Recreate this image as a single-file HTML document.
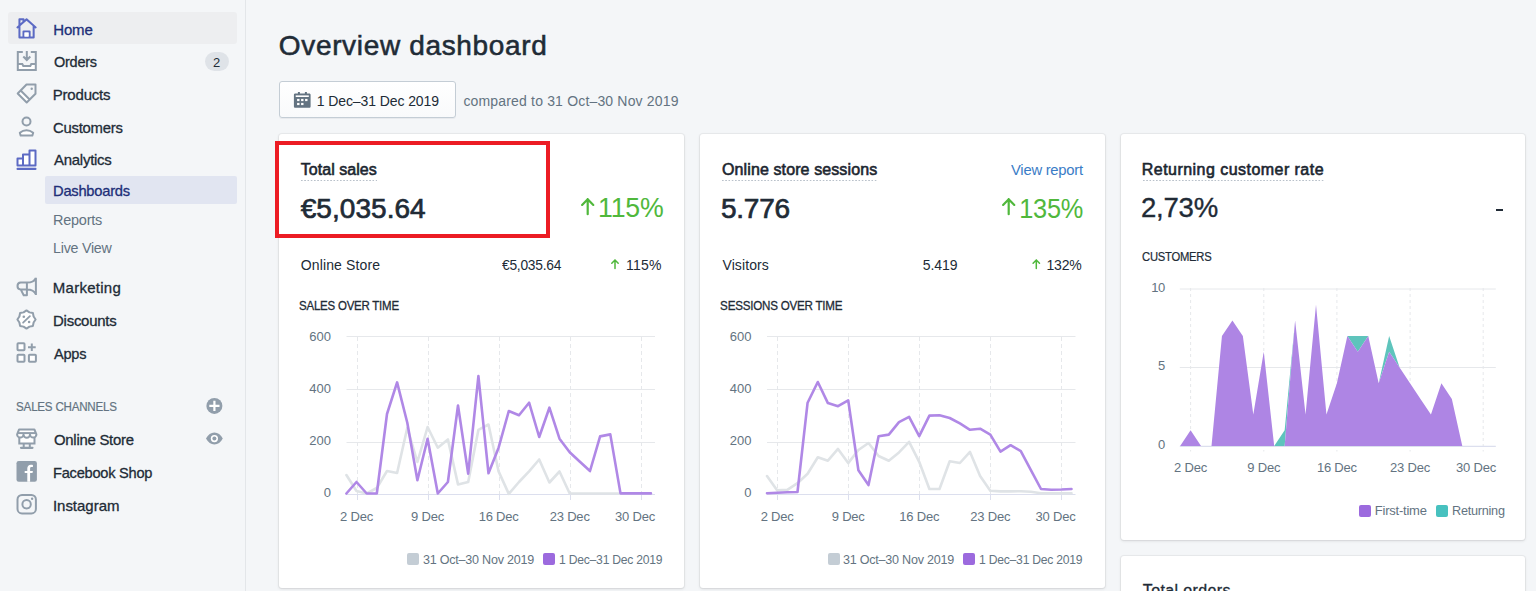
<!DOCTYPE html>
<html><head><meta charset="utf-8"><style>
html,body{margin:0;padding:0;}
body{width:1536px;height:591px;overflow:hidden;background:#f4f6f8;position:relative;font-family:"Liberation Sans", sans-serif;}
.t{position:absolute;white-space:nowrap;}
svg{position:absolute;left:0;top:0;}
</style></head><body>
<div style="position:absolute;left:245px;top:0px;width:1px;height:591px;background:#e3e6e9"></div>
<div style="position:absolute;left:8px;top:12px;width:229px;height:32px;background:#edeef0;border-radius:3px"></div>
<div style="position:absolute;left:45px;top:176px;width:192px;height:28px;background:#e1e5f1;border-radius:2px"></div>
<div class="t" style="left:53.20px;top:22px;font-size:15px;line-height:15px;font-weight:400;color:#202e78;letter-spacing:-0.133px;-webkit-text-stroke:0.3px #202e78;">Home</div>
<div class="t" style="left:54.00px;top:54px;font-size:15px;line-height:15px;font-weight:400;color:#212b36;letter-spacing:-0.250px;-webkit-text-stroke:0.3px #212b36;transform:scaleX(0.9654);transform-origin:0px 0;">Orders</div>
<div class="t" style="left:52.80px;top:87px;font-size:15px;line-height:15px;font-weight:400;color:#212b36;letter-spacing:-0.214px;-webkit-text-stroke:0.3px #212b36;">Products</div>
<div class="t" style="left:52.80px;top:120px;font-size:15px;line-height:15px;font-weight:400;color:#212b36;letter-spacing:-0.250px;-webkit-text-stroke:0.3px #212b36;transform:scaleX(0.9899);transform-origin:1px 0;">Customers</div>
<div class="t" style="left:53.80px;top:152px;font-size:15px;line-height:15px;font-weight:400;color:#212b36;letter-spacing:-0.250px;-webkit-text-stroke:0.3px #212b36;transform:scaleX(0.9966);transform-origin:0px 0;">Analytics</div>
<div class="t" style="left:53.00px;top:183px;font-size:15px;line-height:15px;font-weight:400;color:#202e78;letter-spacing:-0.250px;-webkit-text-stroke:0.3px #202e78;transform:scaleX(0.9801);transform-origin:1px 0;">Dashboards</div>
<div class="t" style="left:52.80px;top:280px;font-size:15px;line-height:15px;font-weight:400;color:#212b36;letter-spacing:0.263px;-webkit-text-stroke:0.3px #212b36;">Marketing</div>
<div class="t" style="left:52.80px;top:313px;font-size:15px;line-height:15px;font-weight:400;color:#212b36;letter-spacing:-0.250px;-webkit-text-stroke:0.3px #212b36;transform:scaleX(0.9984);transform-origin:1px 0;">Discounts</div>
<div class="t" style="left:53.80px;top:346px;font-size:15px;line-height:15px;font-weight:400;color:#212b36;letter-spacing:-0.250px;-webkit-text-stroke:0.3px #212b36;transform:scaleX(0.9714);transform-origin:0px 0;">Apps</div>
<div class="t" style="left:53.90px;top:432px;font-size:15px;line-height:15px;font-weight:400;color:#212b36;letter-spacing:-0.250px;-webkit-text-stroke:0.3px #212b36;transform:scaleX(0.9919);transform-origin:0px 0;">Online Store</div>
<div class="t" style="left:52.90px;top:465px;font-size:15px;line-height:15px;font-weight:400;color:#212b36;letter-spacing:-0.250px;-webkit-text-stroke:0.3px #212b36;transform:scaleX(0.9733);transform-origin:1px 0;">Facebook Shop</div>
<div class="t" style="left:52.90px;top:498px;font-size:15px;line-height:15px;font-weight:400;color:#212b36;letter-spacing:-0.012px;-webkit-text-stroke:0.3px #212b36;">Instagram</div>
<div class="t" style="left:53.00px;top:212px;font-size:15px;line-height:15px;font-weight:400;color:#637381;letter-spacing:-0.250px;transform:scaleX(0.9636);transform-origin:1px 0;">Reports</div>
<div class="t" style="left:53.00px;top:240px;font-size:15px;line-height:15px;font-weight:400;color:#637381;letter-spacing:-0.250px;transform:scaleX(0.9492);transform-origin:1px 0;">Live View</div>
<div class="t" style="left:15.90px;top:400px;font-size:13px;line-height:13px;font-weight:400;color:#637381;letter-spacing:-0.250px;-webkit-text-stroke:0.2px #637381;transform:scaleX(0.8922);transform-origin:1px 0;">SALES CHANNELS</div>
<div style="position:absolute;left:205px;top:52px;width:24px;height:19px;background:#dfe3e8;border-radius:10px"></div>
<div class="t" style="left:213.00px;top:56px;font-size:13px;line-height:13px;font-weight:400;color:#212b36;letter-spacing:0.100px;">2</div>
<div class="t" style="left:278.80px;top:32px;font-size:28px;line-height:28px;font-weight:400;color:#212b36;letter-spacing:0.659px;-webkit-text-stroke:0.55px #212b36;">Overview dashboard</div>
<div style="position:absolute;left:279px;top:81px;width:177px;height:37px;background:linear-gradient(#fff,#f9fafb);border:1px solid #c4cdd5;box-sizing:border-box;border-radius:3px;box-shadow:0 1px 0 0 rgba(22,29,37,0.05)"></div>
<div class="t" style="left:316.70px;top:94px;font-size:14px;line-height:14px;font-weight:400;color:#212b36;letter-spacing:-0.087px;">1 Dec–31 Dec 2019</div>
<div class="t" style="left:463.40px;top:94px;font-size:14px;line-height:14px;font-weight:400;color:#637381;letter-spacing:0.172px;">compared to 31 Oct–30 Nov 2019</div>
<div style="position:absolute;left:279px;top:134px;width:405px;height:454px;background:#fff;border-radius:3px;box-shadow:0 0 0 1px rgba(63,63,68,0.05),0 1px 3px 0 rgba(63,63,68,0.15)"></div>
<div style="position:absolute;left:700px;top:134px;width:405px;height:454px;background:#fff;border-radius:3px;box-shadow:0 0 0 1px rgba(63,63,68,0.05),0 1px 3px 0 rgba(63,63,68,0.15)"></div>
<div style="position:absolute;left:1121px;top:134px;width:404px;height:406px;background:#fff;border-radius:3px;box-shadow:0 0 0 1px rgba(63,63,68,0.05),0 1px 3px 0 rgba(63,63,68,0.15)"></div>
<div style="position:absolute;left:1121px;top:556px;width:404px;height:100px;background:#fff;border-radius:3px;box-shadow:0 0 0 1px rgba(63,63,68,0.05),0 1px 3px 0 rgba(63,63,68,0.15)"></div>
<div class="t" style="left:300.70px;top:162px;font-size:16px;line-height:16px;font-weight:400;color:#1c2630;letter-spacing:0.050px;-webkit-text-stroke:0.6px #1c2630;">Total sales</div>
<div style="position:absolute;left:300.7px;top:180px;width:76.5px;height:1px;background-image:linear-gradient(90deg,#b9c1ca 55%,transparent 55%);background-size:3.25px 1px"></div>
<div class="t" style="left:300.70px;top:195px;font-size:28px;line-height:28px;font-weight:400;color:#212b36;letter-spacing:0.050px;-webkit-text-stroke:0.7px #212b36;">€5,035.64</div>
<div class="t" style="left:597.70px;top:194px;font-size:28px;line-height:28px;font-weight:400;color:#50b83c;letter-spacing:-0.250px;transform:scaleX(0.9540);transform-origin:2px 0;">115%</div>
<div class="t" style="left:300.80px;top:258px;font-size:14px;line-height:14px;font-weight:400;color:#212b36;letter-spacing:0.127px;">Online Store</div>
<div class="t" style="left:501.80px;top:258px;font-size:14px;line-height:14px;font-weight:400;color:#212b36;letter-spacing:-0.250px;transform:scaleX(0.9850);transform-origin:0px 0;">€5,035.64</div>
<div class="t" style="left:626.10px;top:258px;font-size:14px;line-height:14px;font-weight:400;color:#212b36;letter-spacing:0.233px;">115%</div>
<div class="t" style="left:299.00px;top:299px;font-size:13px;line-height:13px;font-weight:400;color:#212b36;letter-spacing:-0.250px;-webkit-text-stroke:0.3px #212b36;transform:scaleX(0.8818);transform-origin:1px 0;">SALES OVER TIME</div>
<div class="t" style="left:722.00px;top:162px;font-size:16px;line-height:16px;font-weight:400;color:#1c2630;letter-spacing:0.110px;-webkit-text-stroke:0.6px #1c2630;">Online store sessions</div>
<div style="position:absolute;left:722px;top:180px;width:156.20000000000005px;height:1px;background-image:linear-gradient(90deg,#b9c1ca 55%,transparent 55%);background-size:3.25px 1px"></div>
<div class="t" style="left:1011.20px;top:162px;font-size:15px;line-height:15px;font-weight:400;color:#3a7cc6;letter-spacing:-0.250px;transform:scaleX(0.9864);transform-origin:0px 0;">View report</div>
<div class="t" style="left:721.00px;top:195px;font-size:28px;line-height:28px;font-weight:400;color:#212b36;letter-spacing:-0.250px;-webkit-text-stroke:0.7px #212b36;">5.776</div>
<div class="t" style="left:1019.30px;top:195px;font-size:28px;line-height:28px;font-weight:400;color:#50b83c;letter-spacing:-0.250px;transform:scaleX(0.9055);transform-origin:2px 0;">135%</div>
<div class="t" style="left:722.50px;top:258px;font-size:14px;line-height:14px;font-weight:400;color:#212b36;letter-spacing:0.086px;">Visitors</div>
<div class="t" style="left:922.80px;top:258px;font-size:14px;line-height:14px;font-weight:400;color:#212b36;letter-spacing:-0.100px;">5.419</div>
<div class="t" style="left:1046.50px;top:258px;font-size:14px;line-height:14px;font-weight:400;color:#212b36;letter-spacing:-0.167px;">132%</div>
<div class="t" style="left:719.80px;top:299px;font-size:13px;line-height:13px;font-weight:400;color:#212b36;letter-spacing:-0.250px;-webkit-text-stroke:0.3px #212b36;transform:scaleX(0.8928);transform-origin:1px 0;">SESSIONS OVER TIME</div>
<div class="t" style="left:1141.80px;top:162px;font-size:16px;line-height:16px;font-weight:400;color:#1c2630;letter-spacing:0.459px;-webkit-text-stroke:0.6px #1c2630;">Returning customer rate</div>
<div style="position:absolute;left:1142.8px;top:180px;width:181.10000000000014px;height:1px;background-image:linear-gradient(90deg,#b9c1ca 55%,transparent 55%);background-size:3.25px 1px"></div>
<div class="t" style="left:1141.40px;top:194px;font-size:28px;line-height:28px;font-weight:400;color:#212b36;letter-spacing:-0.250px;-webkit-text-stroke:0.35px #212b36;transform:scaleX(0.9844);transform-origin:1px 0;">2,73%</div>
<div style="position:absolute;left:1496px;top:209px;width:7px;height:2px;background:#212b36"></div>
<div class="t" style="left:1142.00px;top:251px;font-size:12px;line-height:12px;font-weight:400;color:#212b36;letter-spacing:-0.250px;-webkit-text-stroke:0.2px #212b36;transform:scaleX(0.9365);transform-origin:0px 0;">CUSTOMERS</div>
<div class="t" style="left:1142.80px;top:583px;font-size:16px;line-height:16px;font-weight:400;color:#212b36;letter-spacing:0.364px;-webkit-text-stroke:0.3px #212b36;">Total orders</div>
<div class="t" style="right:1205.00px;top:330px;font-size:13px;line-height:13px;font-weight:400;color:#637381;letter-spacing:0.000px;">600</div>
<div class="t" style="right:1205.00px;top:382px;font-size:13px;line-height:13px;font-weight:400;color:#637381;letter-spacing:0.000px;">400</div>
<div class="t" style="right:1205.00px;top:434px;font-size:13px;line-height:13px;font-weight:400;color:#637381;letter-spacing:0.000px;">200</div>
<div class="t" style="right:1205.00px;top:486px;font-size:13px;line-height:13px;font-weight:400;color:#637381;letter-spacing:0.000px;">0</div>
<div class="t" style="left:156.55px;width:400px;text-align:center;top:510px;font-size:13px;line-height:13px;font-weight:400;color:#637381;letter-spacing:-0.200px;">2 Dec</div>
<div class="t" style="left:227.60px;width:400px;text-align:center;top:510px;font-size:13px;line-height:13px;font-weight:400;color:#637381;letter-spacing:-0.200px;">9 Dec</div>
<div class="t" style="left:298.65px;width:400px;text-align:center;top:510px;font-size:13px;line-height:13px;font-weight:400;color:#637381;letter-spacing:-0.200px;">16 Dec</div>
<div class="t" style="left:369.70px;width:400px;text-align:center;top:510px;font-size:13px;line-height:13px;font-weight:400;color:#637381;letter-spacing:-0.200px;">23 Dec</div>
<div class="t" style="right:881.00px;top:510px;font-size:13px;line-height:13px;font-weight:400;color:#637381;letter-spacing:-0.200px;">30 Dec</div>
<div class="t" style="right:784.50px;top:330px;font-size:13px;line-height:13px;font-weight:400;color:#637381;letter-spacing:0.000px;">600</div>
<div class="t" style="right:784.50px;top:382px;font-size:13px;line-height:13px;font-weight:400;color:#637381;letter-spacing:0.000px;">400</div>
<div class="t" style="right:784.50px;top:434px;font-size:13px;line-height:13px;font-weight:400;color:#637381;letter-spacing:0.000px;">200</div>
<div class="t" style="right:784.50px;top:486px;font-size:13px;line-height:13px;font-weight:400;color:#637381;letter-spacing:0.000px;">0</div>
<div class="t" style="left:577.15px;width:400px;text-align:center;top:510px;font-size:13px;line-height:13px;font-weight:400;color:#637381;letter-spacing:-0.200px;">2 Dec</div>
<div class="t" style="left:648.20px;width:400px;text-align:center;top:510px;font-size:13px;line-height:13px;font-weight:400;color:#637381;letter-spacing:-0.200px;">9 Dec</div>
<div class="t" style="left:719.25px;width:400px;text-align:center;top:510px;font-size:13px;line-height:13px;font-weight:400;color:#637381;letter-spacing:-0.200px;">16 Dec</div>
<div class="t" style="left:790.30px;width:400px;text-align:center;top:510px;font-size:13px;line-height:13px;font-weight:400;color:#637381;letter-spacing:-0.200px;">23 Dec</div>
<div class="t" style="right:460.50px;top:510px;font-size:13px;line-height:13px;font-weight:400;color:#637381;letter-spacing:-0.200px;">30 Dec</div>
<div style="position:absolute;left:407px;top:553px;width:12px;height:12px;background:#c4cdd5;border-radius:2px"></div>
<div class="t" style="left:422.70px;top:553px;font-size:13px;line-height:13px;font-weight:400;color:#637381;letter-spacing:-0.250px;transform:scaleX(0.9662);transform-origin:1px 0;">31 Oct–30 Nov 2019</div>
<div style="position:absolute;left:542.5px;top:553px;width:12px;height:12px;background:#9c6ade;border-radius:2px"></div>
<div class="t" style="left:558.60px;top:553px;font-size:13px;line-height:13px;font-weight:400;color:#637381;letter-spacing:-0.250px;transform:scaleX(0.9336);transform-origin:1px 0;">1 Dec–31 Dec 2019</div>
<div style="position:absolute;left:827.5px;top:553px;width:12px;height:12px;background:#c4cdd5;border-radius:2px"></div>
<div class="t" style="left:843.20px;top:553px;font-size:13px;line-height:13px;font-weight:400;color:#637381;letter-spacing:-0.250px;transform:scaleX(0.9662);transform-origin:1px 0;">31 Oct–30 Nov 2019</div>
<div style="position:absolute;left:963.0px;top:553px;width:12px;height:12px;background:#9c6ade;border-radius:2px"></div>
<div class="t" style="left:979.10px;top:553px;font-size:13px;line-height:13px;font-weight:400;color:#637381;letter-spacing:-0.250px;transform:scaleX(0.9336);transform-origin:1px 0;">1 Dec–31 Dec 2019</div>
<div class="t" style="right:371.00px;top:281px;font-size:13px;line-height:13px;font-weight:400;color:#637381;letter-spacing:-0.300px;">10</div>
<div class="t" style="right:371.00px;top:359px;font-size:13px;line-height:13px;font-weight:400;color:#637381;letter-spacing:-0.300px;">5</div>
<div class="t" style="right:371.00px;top:438px;font-size:13px;line-height:13px;font-weight:400;color:#637381;letter-spacing:-0.300px;">0</div>
<div class="t" style="left:990.60px;width:400px;text-align:center;top:461px;font-size:13px;line-height:13px;font-weight:400;color:#637381;letter-spacing:-0.200px;">2 Dec</div>
<div class="t" style="left:1063.75px;width:400px;text-align:center;top:461px;font-size:13px;line-height:13px;font-weight:400;color:#637381;letter-spacing:-0.200px;">9 Dec</div>
<div class="t" style="left:1136.90px;width:400px;text-align:center;top:461px;font-size:13px;line-height:13px;font-weight:400;color:#637381;letter-spacing:-0.200px;">16 Dec</div>
<div class="t" style="left:1210.05px;width:400px;text-align:center;top:461px;font-size:13px;line-height:13px;font-weight:400;color:#637381;letter-spacing:-0.200px;">23 Dec</div>
<div class="t" style="right:40.00px;top:461px;font-size:13px;line-height:13px;font-weight:400;color:#637381;letter-spacing:-0.200px;">30 Dec</div>
<div style="position:absolute;left:1359px;top:504.5px;width:12px;height:12px;background:#9c6ade;border-radius:2px"></div>
<div class="t" style="left:1374.80px;top:504px;font-size:13px;line-height:13px;font-weight:400;color:#637381;letter-spacing:-0.222px;">First-time</div>
<div style="position:absolute;left:1436px;top:504.5px;width:12px;height:12px;background:#47c1bf;border-radius:2px"></div>
<div class="t" style="left:1451.60px;top:504px;font-size:13px;line-height:13px;font-weight:400;color:#637381;letter-spacing:-0.250px;transform:scaleX(0.9736);transform-origin:1px 0;">Returning</div>
<svg width="1536" height="591" viewBox="0 0 1536 591">
<g transform="translate(16.4,18.3) scale(1.015)"><path fill="#5c6ac4" d="M19.664 8.252l-9-8a1 1 0 0 0-1.328 0L8 1.44V1a1 1 0 0 0-1-1H3a1 1 0 0 0-1 1v5.773L.336 8.252a1.001 1.001 0 0 0 1.328 1.496L2 9.449V19a1 1 0 0 0 1 1h14a1 1 0 0 0 1-1V9.449l.336.299a.997.997 0 0 0 1.411-.083 1.001 1.001 0 0 0-.083-1.413zM16 18h-2v-5a1 1 0 0 0-1-1H7a1 1 0 0 0-1 1v5H4V7.671l6-5.333 6 5.333V18zm-8 0v-4h4v4H8zM4 2h2v1.218L4 4.996V2z"/><rect x="8" y="14" width="4" height="4" fill="#fff"/></g>
<g transform="translate(16.8,51) scale(1.0)"><path d="M1 13H5.5L6.5 15H13.5L14.5 13H19V19H1Z" fill="#fff"/><path fill="none" stroke="#919eab" stroke-width="2" d="M6 1H1V19H19V1H14M1 13H5.5L6.5 15H13.5L14.5 13H19M10 0V9M6.5 5.5L10 9L13.5 5.5"/></g>
<g transform="translate(16.5,83.5) scale(1.0)"><path d="M1.2 10L4.14 7L13.17 16.03L10.2 19Z" fill="#fff"/><path fill="none" stroke="#919eab" stroke-width="2" stroke-linejoin="round" d="M10 1H19V10.2L10.2 19L1.2 10Z M4.14 7L13.17 16.03"/><circle cx="15.2" cy="5.2" r="1.2" fill="#919eab"/></g>
<g transform="translate(16.5,116.5) scale(1.0)"><circle cx="10" cy="5" r="4" fill="none" stroke="#919eab" stroke-width="2"/><path d="M4.2 19.1L3.3 16.2C5.5 14.5 7.8 13.8 10 13.8C12.2 13.8 14.5 14.5 16.7 16.2L15.8 19.1Z" fill="#fff" stroke="#919eab" stroke-width="2" stroke-linejoin="round"/></g>
<g transform="translate(16.5,149.5) scale(1.0)"><path fill="#fff" stroke="#5c6ac4" stroke-width="2" stroke-linejoin="round" d="M1 9H6.5V16H1Z M6.5 5H13V16H6.5Z M13 1H19V16H13Z"/><rect x="0" y="18.2" width="20" height="2.2" rx="1" fill="#5c6ac4"/></g>
<g transform="translate(16.5,276.8) scale(1.0)"><path fill="none" stroke="#919eab" stroke-width="2" stroke-linejoin="round" d="M19.4 1V18.3M19.4 1C18 4.5 14.5 5.8 10.4 5.8H4.2C2 5.8 1 7.2 1 9.3C1 11.2 2 12.6 4 12.6H10.4C14.5 12.6 18 14 19.4 17.6M10.4 5.8V18.5H7.2L4.2 12.6"/></g>
<g transform="translate(16.5,309.5) scale(1.0)"><path d="M10.00 0.90 L12.95 2.89 L16.43 3.57 L17.11 7.05 L19.10 10.00 L17.11 12.95 L16.43 16.43 L12.95 17.11 L10.00 19.10 L7.05 17.11 L3.57 16.43 L2.89 12.95 L0.90 10.00 L2.89 7.05 L3.57 3.57 L7.05 2.89Z" fill="#fff" stroke="#919eab" stroke-width="2" stroke-linejoin="round"/><circle cx="7.3" cy="7.3" r="1.3" fill="#919eab"/><circle cx="12.6" cy="12.5" r="1.3" fill="#919eab"/><path d="M6.6 13.2L13.4 6.7" stroke="#919eab" stroke-width="1.8" stroke-linecap="round"/></g>
<g transform="translate(16.5,342.3) scale(1.0)"><g fill="#fff" stroke="#919eab" stroke-width="2"><rect x="1" y="1" width="7" height="7" rx="0.8"/><rect x="1" y="12.4" width="7" height="7" rx="0.8"/><rect x="12.4" y="12.4" width="7" height="7" rx="0.8"/></g><path d="M15.3 1.2V8.8M11.5 5H19.2" stroke="#919eab" stroke-width="2"/></g>
<g transform="translate(16.5,428.5) scale(1.0)"><path fill="#fff" stroke="#919eab" stroke-width="2" d="M2.8 8V15.1H18V8"/><path d="M7.2 15.5V18.5M13.3 15.5V18.5" stroke="#919eab" stroke-width="2"/><path d="M4.5 19.3H16" stroke="#919eab" stroke-width="2.2" stroke-linecap="round"/><path fill="#fff" stroke="#919eab" stroke-width="2" stroke-linejoin="round" d="M2.6 1H17.9L19.9 5.9A3.15 3.15 0 0 1 13.5 5.9A3.25 3.25 0 0 1 7 5.9A3.15 3.15 0 0 1 0.6 5.9Z"/><path d="M1.3 4.6H19.2" stroke="#919eab" stroke-width="2"/></g>
<g transform="translate(16.5,461.1) scale(1.0)"><rect x="0" y="0" width="20.4" height="20.6" rx="2.2" fill="#919eab"/><path fill="#fff" d="M10.8 20.6V11.9H8.2V9.8H10.8V7.4C10.8 5 12.2 3.6 14.4 3.6C15.3 3.6 16 3.7 16.4 3.8V5.8H15C13.9 5.8 13.6 6.4 13.6 7.3V9.8H16.4L16 11.9H13.6V20.6Z"/></g>
<g transform="translate(16.5,494) scale(1.0)"><rect x="1" y="1" width="18.4" height="18.4" rx="4.5" fill="none" stroke="#919eab" stroke-width="2"/><circle cx="10.1" cy="10.2" r="4.2" fill="none" stroke="#919eab" stroke-width="2"/><circle cx="15.6" cy="4.8" r="1.2" fill="#919eab"/></g>
<circle cx="214.4" cy="405.9" r="8" fill="#919eab"/><path d="M214.4 400.8V411M209.3 405.9H219.5" stroke="#fff" stroke-width="2.2"/>
<path d="M206 438.6C208 434.8 211 432.6 214.4 432.6C217.8 432.6 220.8 434.8 222.8 438.6C220.8 442.4 217.8 444.6 214.4 444.6C211 444.6 208 442.4 206 438.6Z" fill="#919eab"/><circle cx="214.4" cy="438.6" r="3.6" fill="#fff"/><circle cx="214.4" cy="438.6" r="2" fill="#919eab"/>
<g transform="translate(293.9,91.5)"><path fill="#637381" d="M2 2H4V0.6H6V2H11V0.6H13V2H15.2C16.2 2 16.7 2.5 16.7 3.5V15C16.7 15.9 16.2 16.3 15.2 16.3H1.5C0.5 16.3 0 15.9 0 15V3.5C0 2.5 0.5 2 1.5 2Z"/><rect x="1.8" y="3.9" width="13.1" height="1.6" fill="#fff"/><g fill="#fff"><rect x="3.2" y="7.4" width="2.4" height="2.2"/><rect x="7.2" y="7.4" width="2.4" height="2.2"/><rect x="11.2" y="7.4" width="2.4" height="2.2"/><rect x="3.2" y="11.4" width="2.4" height="2.2"/><rect x="7.2" y="11.4" width="2.4" height="2.2"/></g></g>
<path d="M587.6999999999999 214.2V199.2 M582.0999999999999 204.9L587.6999999999999 199.2L593.3 204.9" fill="none" stroke="#50b83c" stroke-width="2.2" stroke-linecap="round" stroke-linejoin="round"/>
<path d="M615.0 268.6V260 M611.8 263.3L615.0 260L618.2 263.3" fill="none" stroke="#50b83c" stroke-width="1.5" stroke-linecap="round" stroke-linejoin="round"/>
<path d="M1008.6999999999999 214.2V199.2 M1003.0999999999999 204.9L1008.6999999999999 199.2L1014.3 204.9" fill="none" stroke="#50b83c" stroke-width="2.2" stroke-linecap="round" stroke-linejoin="round"/>
<path d="M1036.3 268.6V260 M1033.1 263.3L1036.3 260L1039.5 263.3" fill="none" stroke="#50b83c" stroke-width="1.5" stroke-linecap="round" stroke-linejoin="round"/>
<path d="M346.5 336.5H655.0" stroke="#e6e8eb" stroke-width="1"/>
<path d="M346.5 389.5H655.0" stroke="#e6e8eb" stroke-width="1"/>
<path d="M346.5 442.5H655.0" stroke="#e6e8eb" stroke-width="1"/>
<path d="M357.5 337V494" stroke="#e6e8eb" stroke-width="1" stroke-dasharray="4 3"/>
<path d="M357.5 495V500" stroke="#dcdfee" stroke-width="1"/>
<path d="M428.5 337V494" stroke="#e6e8eb" stroke-width="1" stroke-dasharray="4 3"/>
<path d="M428.5 495V500" stroke="#dcdfee" stroke-width="1"/>
<path d="M499.5 337V494" stroke="#e6e8eb" stroke-width="1" stroke-dasharray="4 3"/>
<path d="M499.5 495V500" stroke="#dcdfee" stroke-width="1"/>
<path d="M570.5 337V494" stroke="#e6e8eb" stroke-width="1" stroke-dasharray="4 3"/>
<path d="M570.5 495V500" stroke="#dcdfee" stroke-width="1"/>
<path d="M641.5 337V494" stroke="#e6e8eb" stroke-width="1" stroke-dasharray="4 3"/>
<path d="M641.5 495V500" stroke="#dcdfee" stroke-width="1"/>
<path d="M346.5 494.5H655.0" stroke="#dcdfee" stroke-width="1.2"/>
<polyline points="346.4,475.0 356.5,491.0 366.7,493.5 376.8,488.0 387.0,471.0 397.1,473.0 407.3,427.8 417.4,462.0 427.6,427.0 437.8,447.7 447.9,439.4 458.0,484.4 468.2,482.0 478.4,429.9 488.5,424.5 498.6,471.4 508.8,493.9 519.0,482.0 529.1,471.4 539.2,459.5 549.4,482.5 559.5,471.5 569.7,493.5 579.9,493.5 590.0,493.5 600.1,493.5 610.3,493.5 620.5,493.5 630.6,493.5 640.8,493.5 650.9,493.5" fill="none" stroke="#dfe3e6" stroke-width="2.6" stroke-linejoin="round" stroke-linecap="round"/>
<polyline points="346.4,493.5 356.5,482.0 366.7,493.5 376.8,493.5 387.0,414.0 397.1,382.4 407.3,422.7 417.4,480.2 427.6,438.8 437.8,493.5 447.9,482.0 458.0,405.5 468.2,473.7 478.4,376.1 488.5,473.3 498.6,447.7 508.8,411.0 519.0,415.2 529.1,402.7 539.2,437.0 549.4,407.7 559.5,438.7 569.7,452.3 579.9,461.8 590.0,471.0 600.1,436.4 610.3,434.4 620.5,493.4 630.6,493.4 640.8,493.4 650.9,493.4" fill="none" stroke="#b088e6" stroke-width="2.6" stroke-linejoin="round" stroke-linecap="round"/>
<path d="M767.0 336.5H1075.5" stroke="#e6e8eb" stroke-width="1"/>
<path d="M767.0 389.5H1075.5" stroke="#e6e8eb" stroke-width="1"/>
<path d="M767.0 442.5H1075.5" stroke="#e6e8eb" stroke-width="1"/>
<path d="M777.5 337V494" stroke="#e6e8eb" stroke-width="1" stroke-dasharray="4 3"/>
<path d="M777.5 495V500" stroke="#dcdfee" stroke-width="1"/>
<path d="M848.5 337V494" stroke="#e6e8eb" stroke-width="1" stroke-dasharray="4 3"/>
<path d="M848.5 495V500" stroke="#dcdfee" stroke-width="1"/>
<path d="M919.5 337V494" stroke="#e6e8eb" stroke-width="1" stroke-dasharray="4 3"/>
<path d="M919.5 495V500" stroke="#dcdfee" stroke-width="1"/>
<path d="M990.5 337V494" stroke="#e6e8eb" stroke-width="1" stroke-dasharray="4 3"/>
<path d="M990.5 495V500" stroke="#dcdfee" stroke-width="1"/>
<path d="M1061.5 337V494" stroke="#e6e8eb" stroke-width="1" stroke-dasharray="4 3"/>
<path d="M1061.5 495V500" stroke="#dcdfee" stroke-width="1"/>
<path d="M767.0 494.5H1075.5" stroke="#dcdfee" stroke-width="1.2"/>
<polyline points="767.0,476.1 777.1,490.3 787.3,489.9 797.5,483.2 807.6,473.7 817.8,457.2 827.9,460.7 838.0,448.9 848.2,463.1 858.4,450.0 868.5,443.0 878.6,456.0 888.8,460.7 899.0,452.4 909.1,441.8 919.2,461.8 929.4,489.0 939.5,489.0 949.7,461.3 959.9,463.0 970.0,451.9 980.1,476.0 990.3,490.7 1000.5,491.4 1010.6,491.4 1020.8,491.2 1030.9,491.8 1041.0,493.2 1051.2,493.2 1061.3,493.2 1071.5,493.2" fill="none" stroke="#dfe3e6" stroke-width="2.6" stroke-linejoin="round" stroke-linecap="round"/>
<polyline points="767.0,493.2 777.1,492.7 787.3,492.2 797.5,492.0 807.6,402.7 817.8,382.0 827.9,403.1 838.0,406.2 848.2,400.3 858.4,470.2 868.5,485.1 878.6,436.3 888.8,434.6 899.0,422.1 909.1,416.9 919.2,436.2 929.4,415.6 939.5,415.2 949.7,418.0 959.9,423.4 970.0,429.8 980.1,428.7 990.3,434.6 1000.5,451.6 1010.6,445.2 1020.8,451.1 1030.9,470.1 1041.0,489.0 1051.2,489.7 1061.3,489.5 1071.5,489.0" fill="none" stroke="#b088e6" stroke-width="2.6" stroke-linejoin="round" stroke-linecap="round"/>
<path d="M1179.8 289.0H1495.8" stroke="#e6e8eb" stroke-width="1"/>
<path d="M1179.8 367.5H1495.8" stroke="#e6e8eb" stroke-width="1"/>
<path d="M1190.6 288.0V451.5" stroke="#e6e8eb" stroke-width="1" stroke-dasharray="3 3"/>
<path d="M1263.8 288.0V451.5" stroke="#e6e8eb" stroke-width="1" stroke-dasharray="3 3"/>
<path d="M1336.9 288.0V451.5" stroke="#e6e8eb" stroke-width="1" stroke-dasharray="3 3"/>
<path d="M1410.1 288.0V451.5" stroke="#e6e8eb" stroke-width="1" stroke-dasharray="3 3"/>
<path d="M1483.2 288.0V451.5" stroke="#e6e8eb" stroke-width="1" stroke-dasharray="3 3"/>
<path d="M1179.8 446.3H1495.8" stroke="#dcdfee" stroke-width="1.2"/>
<polygon points="1180.15,446.00 1190.60,430.30 1201.05,446.00 1211.50,446.00 1221.95,336.10 1232.40,320.40 1242.85,336.10 1253.30,414.60 1263.75,351.80 1274.20,446.00 1284.65,430.30 1295.10,320.40 1305.55,414.60 1316.00,304.70 1326.45,414.60 1336.90,383.20 1347.35,336.10 1357.80,336.10 1368.25,336.10 1378.70,383.20 1389.15,336.10 1399.60,367.50 1410.05,383.20 1420.50,398.90 1430.95,414.60 1441.40,383.20 1451.85,398.90 1462.30,446.00 1472.75,446.00 1483.20,446.00 1493.65,446.00 1493.65,446.00 1483.20,446.00 1472.75,446.00 1462.30,446.00 1451.85,398.90 1441.40,383.20 1430.95,414.60 1420.50,398.90 1410.05,383.20 1399.60,367.50 1389.15,351.80 1378.70,383.20 1368.25,336.10 1357.80,351.80 1347.35,336.10 1336.90,383.20 1326.45,414.60 1316.00,304.70 1305.55,414.60 1295.10,320.40 1284.65,446.00 1274.20,446.00 1263.75,351.80 1253.30,414.60 1242.85,336.10 1232.40,320.40 1221.95,336.10 1211.50,446.00 1201.05,446.00 1190.60,430.30 1180.15,446.00" fill="#5ec4bc"/>
<polygon points="1180.15,446.00 1190.60,430.30 1201.05,446.00 1211.50,446.00 1221.95,336.10 1232.40,320.40 1242.85,336.10 1253.30,414.60 1263.75,351.80 1274.20,446.00 1284.65,446.00 1295.10,320.40 1305.55,414.60 1316.00,304.70 1326.45,414.60 1336.90,383.20 1347.35,336.10 1357.80,351.80 1368.25,336.10 1378.70,383.20 1389.15,351.80 1399.60,367.50 1410.05,383.20 1420.50,398.90 1430.95,414.60 1441.40,383.20 1451.85,398.90 1462.30,446.00 1472.75,446.00 1483.20,446.00 1493.65,446.00 1493.65,446.00 1483.20,446.00 1472.75,446.00 1462.30,446.00 1451.85,446.00 1441.40,446.00 1430.95,446.00 1420.50,446.00 1410.05,446.00 1399.60,446.00 1389.15,446.00 1378.70,446.00 1368.25,446.00 1357.80,446.00 1347.35,446.00 1336.90,446.00 1326.45,446.00 1316.00,446.00 1305.55,446.00 1295.10,446.00 1284.65,446.00 1274.20,446.00 1263.75,446.00 1253.30,446.00 1242.85,446.00 1232.40,446.00 1221.95,446.00 1211.50,446.00 1201.05,446.00 1190.60,446.00 1180.15,446.00" fill="#ae85e4"/>
</svg>
<div style="position:absolute;left:275px;top:141px;width:275px;height:97px;border:4px solid #ec1c24;box-sizing:border-box"></div>
</body></html>
